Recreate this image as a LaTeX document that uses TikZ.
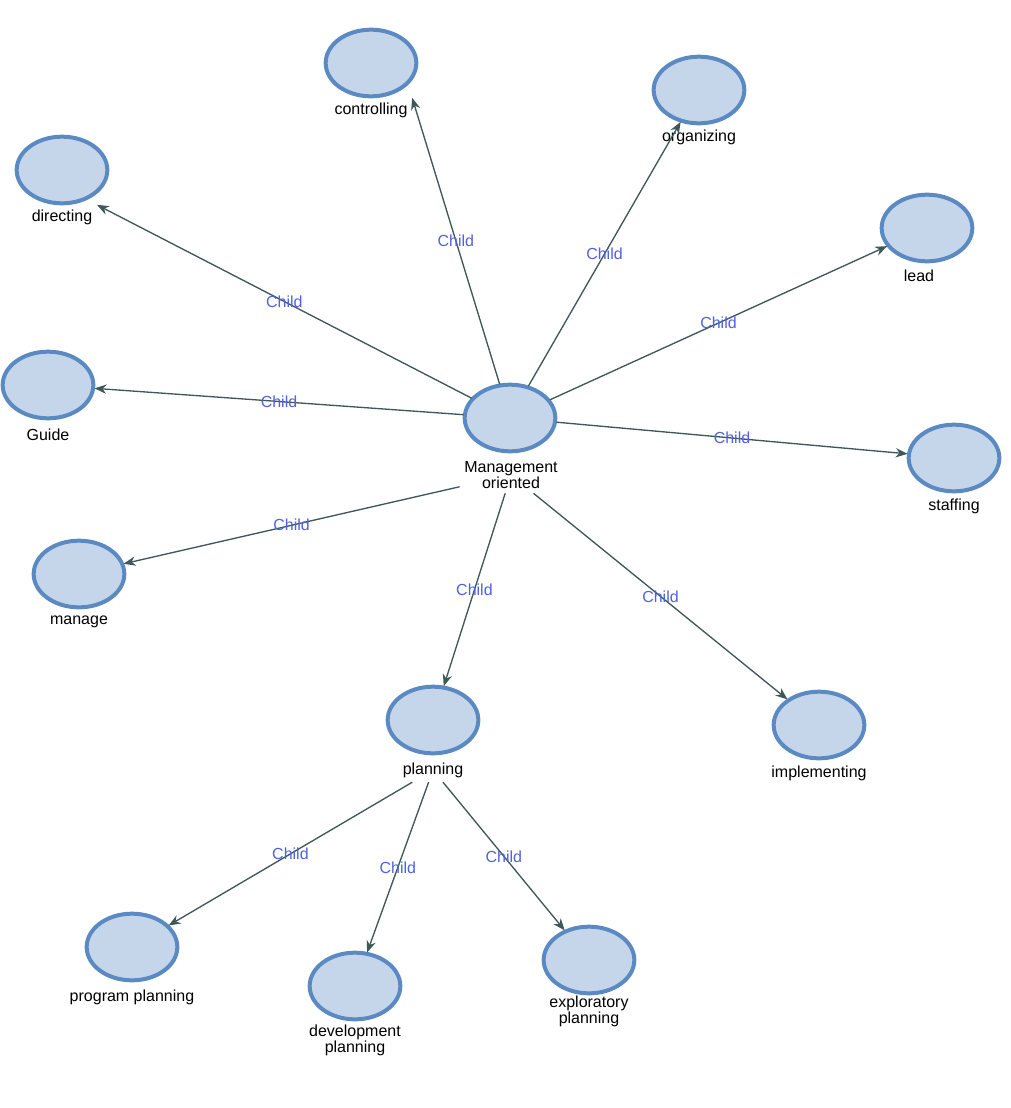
\documentclass[tikz,border=0pt]{standalone}
\usepackage{fontspec}
\setmainfont{Liberation Sans}
\usetikzlibrary{shapes.geometric,arrows.meta}
\definecolor{nfill}{HTML}{C5D6EA}
\definecolor{ndraw}{HTML}{5B8AC2}
\definecolor{edgec}{HTML}{3E5857}
\definecolor{lblc}{HTML}{4F62E0}
\tikzset{
 nd/.style={ellipse,minimum width=68pt,minimum height=50pt,fill=nfill,draw=ndraw,line width=3pt,outer sep=1pt},
 tx/.style={font=\fontsize{12}{12}\selectfont,align=center,text=black},
 ed/.style={draw=edgec,line width=1pt,-{Stealth[length=9pt,width=7pt]}},
 lb/.style={midway,font=\fontsize{12}{12}\selectfont,text=lblc}
}
\begin{document}
\begin{tikzpicture}[x=0.75pt,y=-0.75pt]
\useasboundingbox (0,0) rectangle (1011,1108);
\node[nd] (c) at (371,63) {}; \node[tx] (ct) at (371,110) {controlling};
\node[nd] (o) at (699,90) {}; \node[tx] (ot) at (699,137) {organizing};
\node[nd] (d) at (62,170) {}; \node[tx] (dt) at (62,217) {directing};
\node[nd] (l) at (927,228) {}; \node[tx] (lt) at (919,276) {lead};
\node[nd] (g) at (48,385) {}; \node[tx] (gt) at (48,435) {Guide};
\node[nd] (m) at (510,418) {}; \node[tx] (mt) at (511,475) {Management\\oriented};
\node[nd] (s) at (954,458) {}; \node[tx] (st) at (954,506) {staffing};
\node[nd] (ma) at (79,574) {}; \node[tx] (mat) at (79,622) {manage};
\node[nd] (p) at (433,720) {}; \node[tx] (pt) at (433,770) {planning};
\node[nd] (i) at (819,725) {}; \node[tx] (it) at (819,773) {implementing};
\node[nd] (pp) at (132,947) {}; \node[tx] (ppt) at (132,997) {program planning};
\node[nd] (dp) at (355,986) {}; \node[tx] (dpt) at (355,1040) {development\\planning};
\node[nd] (ep) at (589,960) {}; \node[tx] (ept) at (589,1011) {exploratory\\planning};
\draw[ed] (m) -- (ct.north east) node[lb]{Child};
\draw[ed] (m) -- (o) node[lb]{Child};
\draw[ed] (m) -- (dt.north east) node[lb]{Child};
\draw[ed] (m) -- (l) node[lb]{Child};
\draw[ed] (m) -- (g) node[lb]{Child};
\draw[ed] (m) -- (s) node[lb]{Child};
\draw[ed] (mt) -- (ma) node[lb]{Child};
\draw[ed] (mt) -- (p) node[lb]{Child};
\draw[ed] (mt) -- (i) node[lb]{Child};
\draw[ed] (pt) -- (pp) node[lb]{Child};
\draw[ed] (pt) -- (dp) node[lb]{Child};
\draw[ed] (pt) -- (ep) node[lb]{Child};
\end{tikzpicture}
\end{document}
